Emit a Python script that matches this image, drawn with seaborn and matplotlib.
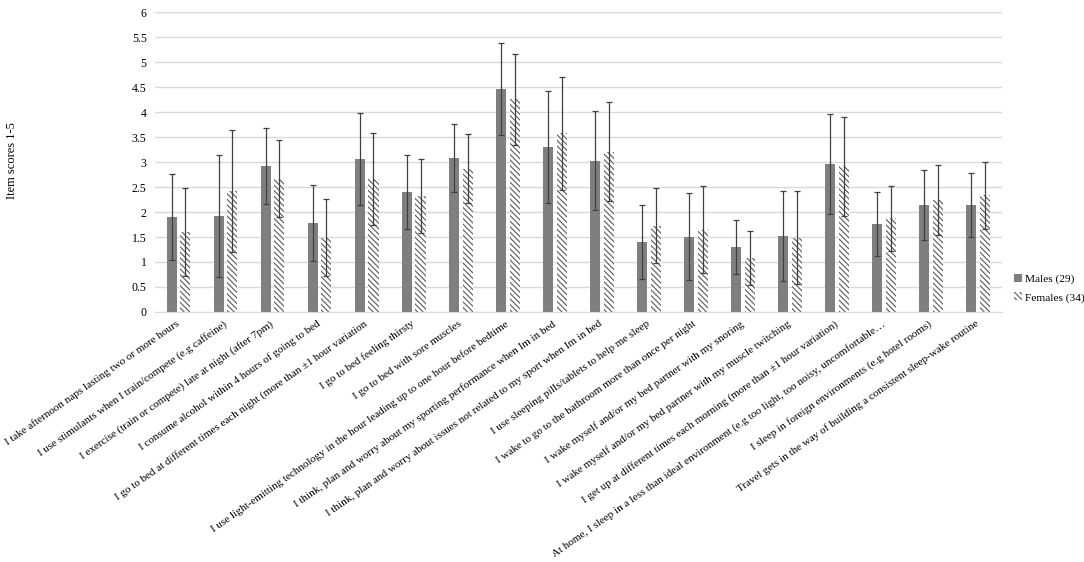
import matplotlib
matplotlib.use('Agg')
import matplotlib.pyplot as plt
import matplotlib.transforms as mtransforms
from matplotlib.patches import Patch
from matplotlib.ticker import MultipleLocator, FuncFormatter
import pandas as pd
import seaborn as sns

items = [
    'I take afternoon naps lasting two or more hours',
    'I use stimulants when I train/compete (e.g caffeine)',
    'I exercise (train or compete) late at night (after 7pm)',
    'I consume alcohol within 4 hours of going to bed',
    'I go to bed at different times each night (more than \u00b11 hour variation',
    'I go to bed feeling thirsty',
    'I go to bed with sore muscles',
    'I use light-emitting technology in the hour leading up to one hour before bedtime',
    'I think, plan and worry about my sporting performance when Im in bed',
    'I think, plan and worry about issues not related to my sport when Im in bed',
    'I use sleeping pills/tablets to help me sleep',
    'I wake to go to the bathroom more than once per night',
    'I wake myself and/or my bed partner with my snoring',
    'I wake myself and/or my bed partner with my muscle twitching',
    'I get up at different times each morning (more than \u00b11 hour variation)',
    'At home, I sleep in a less than ideal environment (e.g too light, too noisy, uncomfortable\u2026',
    'I sleep in foreign environments (e.g hotel rooms)',
    'Travel gets in the way of building a consistent sleep-wake routine',
]

male_mean = [1.90, 1.92, 2.92, 1.78, 3.06, 2.40, 3.09, 4.46, 3.31, 3.03,
             1.40, 1.51, 1.30, 1.52, 2.97, 1.76, 2.14, 2.14]
male_sd = [0.86, 1.22, 0.76, 0.77, 0.92, 0.74, 0.68, 0.92, 1.12, 0.99,
           0.75, 0.88, 0.55, 0.91, 1.00, 0.64, 0.70, 0.64]
female_mean = [1.60, 2.43, 2.67, 1.49, 2.67, 2.32, 2.87, 4.26, 3.58, 3.21,
               1.73, 1.65, 1.08, 1.49, 2.92, 1.88, 2.24, 2.34]
female_sd = [0.88, 1.22, 0.77, 0.78, 0.92, 0.74, 0.69, 0.91, 1.13, 0.99,
             0.75, 0.88, 0.55, 0.93, 0.99, 0.65, 0.70, 0.67]

groups = ['Males (29)', 'Females (34)']

df = pd.concat([
    pd.DataFrame({'item': items, 'score': male_mean, 'group': groups[0]}),
    pd.DataFrame({'item': items, 'score': female_mean, 'group': groups[1]}),
])

plt.rcParams['font.family'] = ['Liberation Serif', 'DejaVu Serif']
plt.rcParams['hatch.linewidth'] = 0.8
plt.rcParams['hatch.color'] = '#595959'

fig = plt.figure(figsize=(10.84, 5.62), dpi=100)
ax = fig.add_axes([0.143, 0.445, 0.781, 0.533])

sns.barplot(data=df, x='item', y='score', hue='group', errorbar=None,
            palette=['#7f7f7f', 'white'], width=0.58, gap=0.26,
            linewidth=0, ax=ax, legend=False)

# hatch the female bars
for p in ax.containers[1]:
    p.set_hatch('\\\\\\\\\\\\')
    p.set_edgecolor('#595959')
    p.set_linewidth(0)

for cont, m, s in zip(ax.containers, [male_mean, female_mean], [male_sd, female_sd]):
    xs = [p.get_x() + p.get_width() / 2 for p in cont]
    ax.errorbar(xs, m, yerr=s, fmt='none', ecolor='#404040', elinewidth=0.9,
                capsize=2, capthick=0.9, zorder=5)

ax.set_ylim(0, 6)
ax.set_xlim(-0.5, len(items) - 0.5)
ax.yaxis.set_major_locator(MultipleLocator(0.5))
ax.yaxis.set_major_formatter(FuncFormatter(lambda v, _: f'{v:g}'))
ax.grid(axis='y', color='#d9d9d9', linewidth=1)
ax.set_axisbelow(True)
for side in ['top', 'right', 'left']:
    ax.spines[side].set_visible(False)
ax.spines['bottom'].set_color('#d9d9d9')
ax.tick_params(axis='y', length=0, labelsize=8.5, pad=6)
ax.tick_params(axis='x', length=0, pad=5)
ax.set_xlabel('')
ax.set_ylabel('')
ax.set_xticks(range(len(items)))
ax.set_xticklabels(items, rotation=35, ha='right', rotation_mode='anchor', fontsize=8)
shift = mtransforms.ScaledTranslation(-3 / 100, 0, fig.dpi_scale_trans)
for lab in ax.get_xticklabels():
    lab.set_transform(lab.get_transform() + shift)

fig.text(0.011, 0.715, 'Item scores 1-5', rotation=90, va='center', ha='center', fontsize=9)

handles = [Patch(facecolor='#7f7f7f', edgecolor='none'),
           Patch(facecolor='white', edgecolor='#595959', hatch='\\\\\\\\\\\\', linewidth=0)]
fig.legend(handles, groups, loc='center left', bbox_to_anchor=(0.926, 0.487),
           frameon=False, fontsize=8.2, handlelength=0.7, handleheight=0.7,
           handletextpad=0.3, labelspacing=0.7)

fig.savefig('out.png', dpi=100)
